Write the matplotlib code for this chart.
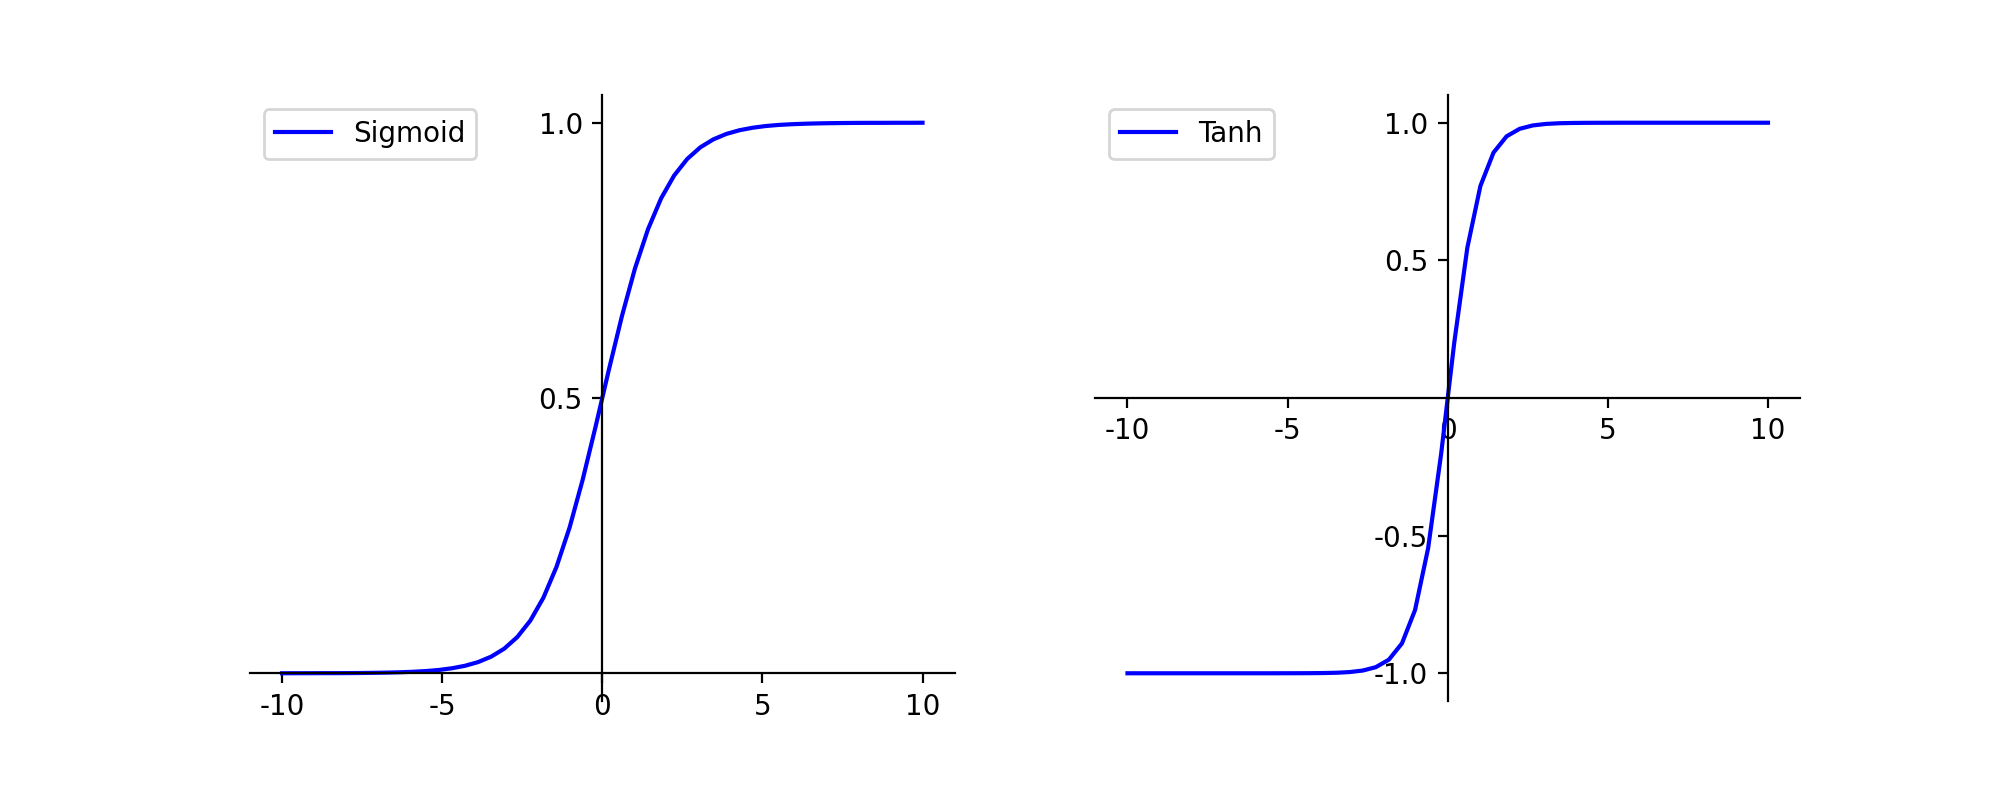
import matplotlib
matplotlib.use("Agg")
import matplotlib.pyplot as plt

plt.rcParams['axes.unicode_minus'] = False

x_vals = [-10.0, -9.592, -9.184, -8.776, -8.367, -7.959, -7.551, -7.143, -6.735, -6.327,
          -5.918, -5.510, -5.102, -4.694, -4.286, -3.878, -3.469, -3.061, -2.653, -2.245,
          -1.837, -1.429, -1.020, -0.612, -0.204,
          0.204, 0.612, 1.020, 1.429, 1.837, 2.245, 2.653, 3.061, 3.469, 3.878,
          4.286, 4.694, 5.102, 5.510, 5.918, 6.327, 6.735, 7.143, 7.551, 7.959,
          8.367, 8.776, 9.184, 9.592, 10.0]

sigmoid_vals = [0.0000, 0.0001, 0.0001, 0.0002, 0.0002, 0.0003, 0.0005, 0.0008, 0.0012, 0.0018,
                0.0027, 0.0040, 0.0060, 0.0091, 0.0136, 0.0203, 0.0302, 0.0447, 0.0658, 0.0958,
                0.1374, 0.1933, 0.2649, 0.3516, 0.4492,
                0.5508, 0.6484, 0.7351, 0.8067, 0.8626, 0.9042, 0.9342, 0.9553, 0.9698, 0.9797,
                0.9864, 0.9909, 0.9940, 0.9960, 0.9973, 0.9982, 0.9988, 0.9992, 0.9995, 0.9997,
                0.9998, 0.9998, 0.9999, 0.9999, 1.0000]

tanh_vals = [-1.0, -1.0, -1.0, -1.0, -1.0, -1.0, -1.0, -1.0, -1.0, -1.0,
             -1.0, -1.0, -0.9999, -0.9998, -0.9996, -0.9991, -0.9981, -0.9956, -0.9901, -0.9778,
             -0.9505, -0.8914, -0.7701, -0.5457, -0.2013,
             0.2013, 0.5457, 0.7701, 0.8914, 0.9505, 0.9778, 0.9901, 0.9956, 0.9981, 0.9991,
             0.9996, 0.9998, 0.9999, 1.0, 1.0, 1.0, 1.0, 1.0, 1.0, 1.0,
             1.0, 1.0, 1.0, 1.0, 1.0]

sigmoid_yticks = [0.5, 1.0]
tanh_yticks = [-1.0, -0.5, 0.5, 1.0]
x_ticks = [-10, -5, 0, 5, 10]

fig = plt.figure(figsize=(10, 4), dpi=200)
fig.subplots_adjust(left=0.125, right=0.9, bottom=0.124, top=0.881, wspace=0.2)

ax1 = fig.add_subplot(121)
ax1.plot(x_vals, sigmoid_vals, color='blue', label='Sigmoid')
ax1.set_xticks(x_ticks)
ax1.set_yticks(sigmoid_yticks)
ax1.legend(loc='upper left')

ax2 = fig.add_subplot(122)
ax2.plot(x_vals, tanh_vals, color='blue', label='Tanh')
ax2.set_xticks(x_ticks)
ax2.set_yticks(tanh_yticks)
ax2.legend(loc='upper left')

for ax in (ax1, ax2):
    ax.spines['right'].set_color('none')
    ax.spines['top'].set_color('none')
    ax.spines['left'].set_position(('data', 0))
    ax.spines['bottom'].set_position(('data', 0))
    ax.xaxis.set_ticks_position('bottom')
    ax.yaxis.set_ticks_position('left')

fig.savefig('out.png', dpi=200)
